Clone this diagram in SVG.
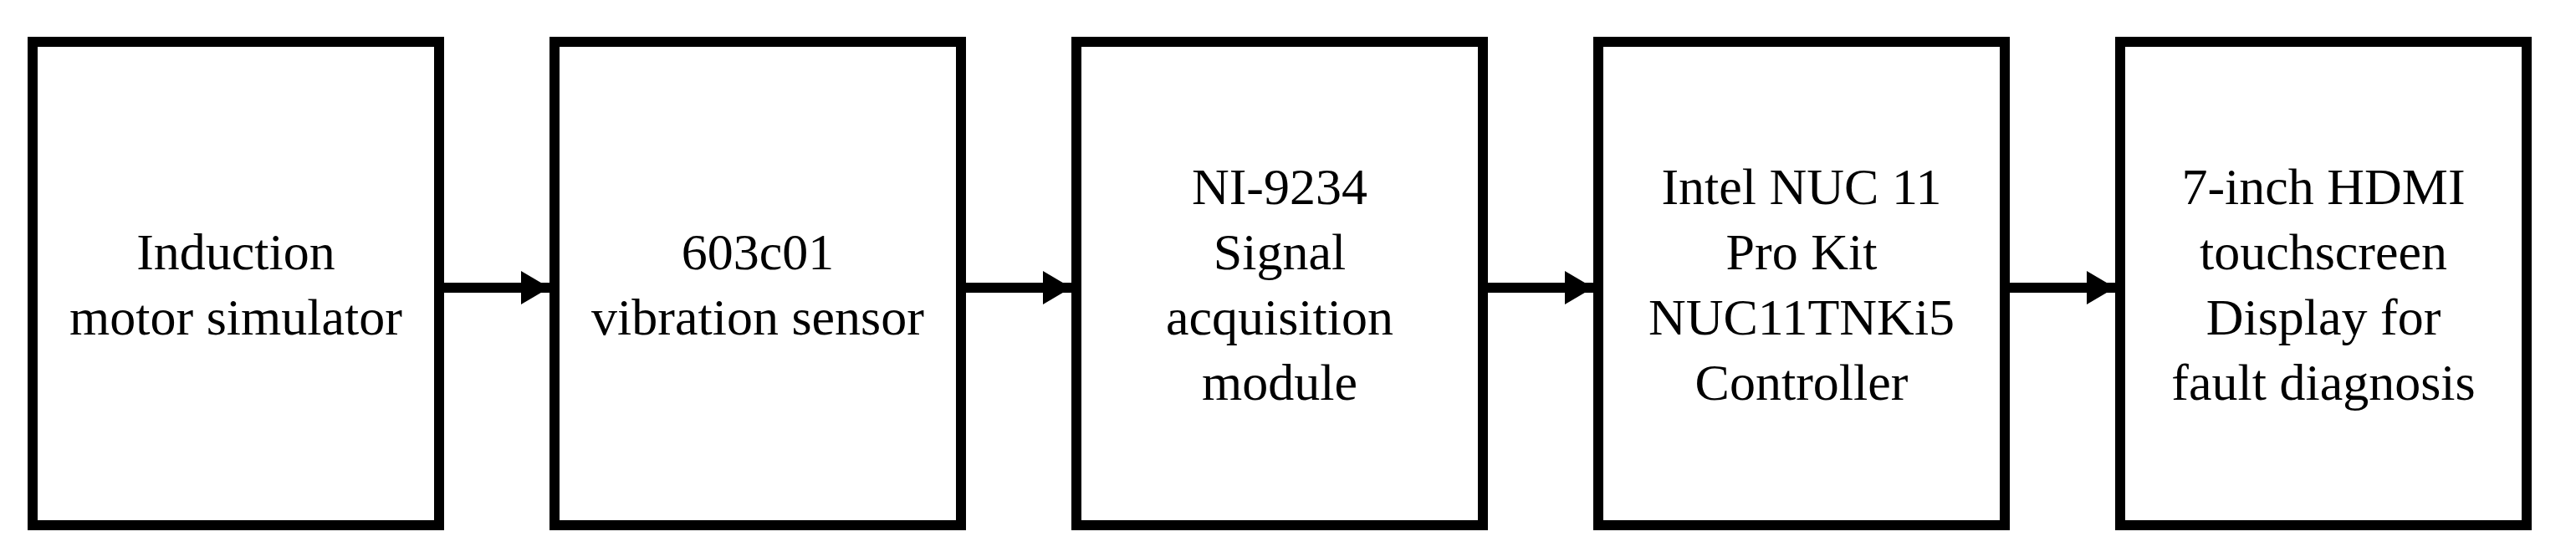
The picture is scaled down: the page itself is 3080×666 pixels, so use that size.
<svg xmlns="http://www.w3.org/2000/svg" width="3080" height="666" viewBox="0 0 3080 666">
<style>
.box{fill:#fff;stroke:#000;stroke-width:12}
.t{font-family:"Liberation Serif","Times New Roman",serif;font-size:62px;fill:#000;text-anchor:middle}
.c{stroke:#000;stroke-width:12;fill:none}
</style>
<defs><marker id="ah" markerUnits="userSpaceOnUse" markerWidth="34" markerHeight="40" refX="34" refY="20" orient="auto"><path d="M0,0 L34,20 L0,40 Z" fill="#000"/></marker></defs>
<rect width="3080" height="666" fill="#fff"/>
<g id="n1"><rect class="box" x="39" y="50" width="486" height="578"/><text class="t"><tspan x="282" y="322">Induction</tspan><tspan x="282" y="400">motor simulator</tspan></text></g>
<g id="n2"><rect class="box" x="663" y="50" width="486" height="578"/><text class="t"><tspan x="906" y="322">603c01</tspan><tspan x="906" y="400">vibration sensor</tspan></text></g>
<g id="n3"><rect class="box" x="1287" y="50" width="486" height="578"/><text class="t"><tspan x="1530" y="244">NI-9234</tspan><tspan x="1530" y="322">Signal</tspan><tspan x="1530" y="400">acquisition</tspan><tspan x="1530" y="478">module</tspan></text></g>
<g id="n4"><rect class="box" x="1911" y="50" width="486" height="578"/><text class="t"><tspan x="2154" y="244">Intel NUC 11</tspan><tspan x="2154" y="322">Pro Kit</tspan><tspan x="2154" y="400">NUC11TNKi5</tspan><tspan x="2154" y="478">Controller</tspan></text></g>
<g id="n5"><rect class="box" x="2535" y="50" width="486" height="578"/><text class="t"><tspan x="2778" y="244">7-inch HDMI</tspan><tspan x="2778" y="322">touchscreen</tspan><tspan x="2778" y="400">Display for</tspan><tspan x="2778" y="478">fault diagnosis</tspan></text></g>
<g id="connectors">
<line class="c" x1="531" y1="344" x2="657" y2="344" marker-end="url(#ah)"/>
<line class="c" x1="1155" y1="344" x2="1281" y2="344" marker-end="url(#ah)"/>
<line class="c" x1="1779" y1="344" x2="1905" y2="344" marker-end="url(#ah)"/>
<line class="c" x1="2403" y1="344" x2="2529" y2="344" marker-end="url(#ah)"/>
</g>
</svg>
